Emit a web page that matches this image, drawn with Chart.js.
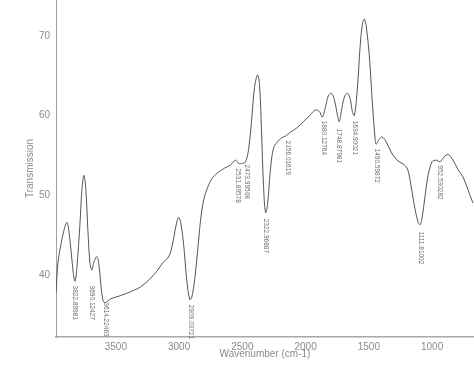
<!DOCTYPE html>
<html>
<head>
<meta charset="utf-8">
<script src="https://cdn.jsdelivr.net/npm/chart.js@4/dist/chart.umd.min.js"></script>
<style>
  html, body { margin: 0; padding: 0; background: #fff; }
  #wrap { width: 474px; height: 369px; }
</style>
</head>
<body>
<div id="wrap"><canvas id="myChart"></canvas></div>
<script>
// spectrum (wavenumber cm-1 / transmission)
const wavenumbers = [3973, 3957, 3934, 3910, 3886, 3863, 3839, 3823, 3808, 3784, 3768, 3752, 3737, 3721, 3705, 3689,
    3673, 3650, 3634, 3618, 3603, 3587, 3539, 3461, 3382, 3303, 3224, 3169, 3129, 3090, 3066, 3043, 3019, 3003,
    2987, 2964, 2940, 2916, 2901, 2877, 2853, 2830, 2806, 2774, 2735, 2688, 2640, 2593, 2554, 2530, 2498, 2475,
    2451, 2427, 2404, 2380, 2364, 2349, 2333, 2317, 2301, 2278, 2254, 2222, 2191, 2160, 2120, 2073, 2018, 1962,
    1923, 1891, 1868, 1844, 1820, 1797, 1773, 1749, 1734, 1718, 1694, 1670, 1646, 1631, 1615, 1592, 1568, 1552,
    1536, 1521, 1497, 1474, 1450, 1442, 1419, 1395, 1363, 1324, 1277, 1229, 1198, 1174, 1142, 1111, 1095, 1079,
    1055, 1032, 1000, 969, 937, 906, 874, 835, 795, 756, 717, 677];
const transmission = [37.7, 41.6, 43.8, 45.6, 46.6, 44.4, 40.6, 39.2, 40.9, 46.3, 50.7, 52.5, 50.7, 45.6, 41.6, 40.6,
    41.6, 42.3, 41.3, 38.7, 36.9, 36.5, 37.0, 37.4, 37.9, 38.5, 39.6, 40.6, 41.5, 42.1, 42.9, 44.6, 46.6, 47.2,
    46.6, 43.8, 39.4, 36.9, 37.1, 39.4, 43.1, 46.9, 49.4, 51.0, 52.2, 52.9, 53.4, 53.8, 54.4, 54.0, 54.0, 54.2,
    55.7, 59.4, 63.5, 65.1, 63.8, 58.2, 51.3, 47.8, 48.8, 53.2, 55.9, 56.7, 57.2, 57.4, 57.9, 58.4, 59.2, 60.1,
    60.7, 60.5, 59.8, 61.0, 62.5, 62.8, 62.0, 60.1, 59.2, 60.5, 62.3, 62.8, 62.0, 60.5, 60.0, 63.2, 68.9, 71.4,
    72.1, 71.2, 67.6, 62.0, 56.9, 56.4, 57.0, 57.3, 56.7, 55.4, 54.4, 53.9, 53.4, 51.9, 48.8, 46.6, 46.3, 47.2,
    50.0, 52.5, 54.2, 54.4, 54.2, 54.8, 55.1, 54.4, 53.2, 52.3, 50.7, 49.0];

// peak labels: text, where it sits (wavenumber) and where it starts (transmission)
const peakLabels = ['3822.89981', '3690.12427', '3614.22463', '2909.03721', '2531.89578', '2473.99508', '2322.96887',
    '2156.01619', '1880.12764', '1748.87981', '1634.90021', '1490.59872', '1111.81002', '952.530282'];
const peakPos = [3823, 3694, 3582, 2910, 2536, 2466, 2312, 2138, 1857, 1734, 1615, 1434, 1087, 941];
const peakTop = [38.9, 38.9, 36.8, 36.5, 53.6, 54.1, 47.3, 57.1, 59.6, 58.6, 59.6, 56.1, 45.7, 54.0];

const xTicks = [3500, 3000, 2500, 2000, 1500, 1000];
const yTicks = [40, 50, 60, 70];

const gray = '#8a8a8a';
const fontFamily = '"Liberation Sans", Arial, sans-serif';

const peakLabelPlugin = {
    id: 'peakLabels',
    afterDatasetsDraw(chart) {
        const ctx = chart.ctx;
        const xs = chart.scales.x, ys = chart.scales.y;
        ctx.save();
        ctx.fillStyle = '#6e6e6e';
        ctx.font = '6.5px ' + fontFamily;
        ctx.textBaseline = 'middle';
        ctx.textAlign = 'left';
        peakLabels.forEach((txt, i) => {
            const px = xs.getPixelForValue(peakPos[i]);
            const py = ys.getPixelForValue(peakTop[i]) + 2;
            ctx.save();
            ctx.translate(px, py);
            ctx.rotate(Math.PI / 2);
            ctx.fillText(txt, 0, 0);
            ctx.restore();
        });
        ctx.restore();
    }
};

const ctx = document.getElementById('myChart').getContext('2d');
const myChart = new Chart(ctx, {
    type: 'line',
    data: {
        datasets: [{
            data: wavenumbers.map((w, i) => ({ x: w, y: transmission[i] })),
            borderColor: '#555',
            borderWidth: 1,
            pointRadius: 0,
            tension: 0.35,
            fill: false
        }]
    },
    options: {
        responsive: true,
        maintainAspectRatio: false,
        animation: false,
        layout: { padding: { left: 24, right: 0, top: 0, bottom: 9 } },
        scales: {
            x: {
                type: 'linear',
                reverse: true,
                min: 669,
                max: 3973,
                afterBuildTicks: (s) => { s.ticks = xTicks.map(v => ({ value: v })); },
                afterFit: (s) => { s.height = 23; },
                grid: { display: false, drawTicks: false },
                border: { color: '#a8a8a8', width: 1.5 },
                ticks: {
                    color: gray,
                    padding: 4,
                    maxRotation: 0,
                    callback: (v) => String(v),
                    font: { family: fontFamily, size: 10 }
                },
                title: {
                    display: true,
                    text: 'Wavenumber (cm-1)',
                    color: gray,
                    padding: 0,
                    font: { family: fontFamily, size: 10 }
                }
            },
            y: {
                min: 32.2,
                max: 74.5,
                afterBuildTicks: (s) => { s.ticks = yTicks.map(v => ({ value: v })); },
                afterFit: (s) => { s.width = 32; s.paddingTop = 0; },
                grid: { display: false, drawTicks: false },
                border: { color: '#a0a0a0', width: 1 },
                ticks: {
                    color: gray,
                    padding: 6,
                    callback: (v) => String(v),
                    font: { family: fontFamily, size: 10 }
                },
                title: {
                    display: true,
                    text: 'Transmission',
                    color: gray,
                    padding: 0,
                    font: { family: fontFamily, size: 10 }
                }
            }
        },
        plugins: {
            legend: { display: false },
            tooltip: { enabled: false }
        }
    },
    plugins: [peakLabelPlugin]
});
</script>
</body>
</html>
